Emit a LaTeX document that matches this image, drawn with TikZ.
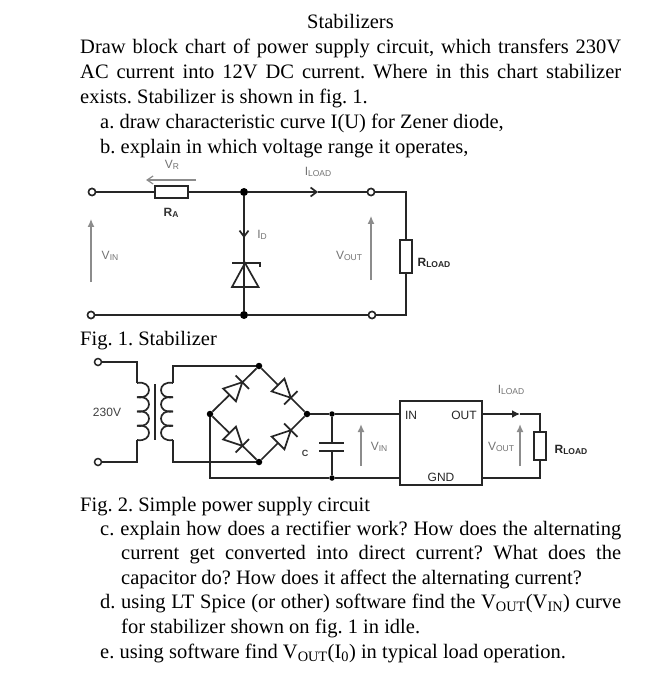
\documentclass[tikz,border=0pt]{standalone}
\usepackage{fontspec}
\setmainfont{Liberation Serif}
\setsansfont{Liberation Sans}
\usetikzlibrary{arrows.meta}

\newcommand{\lab}[2]{#1\raisebox{-.25ex}{\fontsize{8.5}{9}\selectfont #2}}

\tikzset{
  txt/.style = {anchor=base west, inner sep=0pt, font=\fontsize{20.5}{25}\selectfont},
  lbl/.style = {inner sep=0pt, font=\sffamily\fontsize{12}{13}\selectfont},
  wire/.style = {line width=1.7pt, draw=black!85},
  volt/.style = {line width=1.2pt, draw=black!45, -{Latex[length=8pt,width=7pt]}},
  term/.style = {circle, draw=black!85, fill=white, line width=1.5pt, minimum size=7pt, inner sep=0pt},
  dot/.style = {circle, fill=black, minimum size=8pt, inner sep=0pt},
  res/.style = {rectangle, draw=black!85, fill=white, line width=1.7pt, inner sep=0pt},
  openhead/.style = {-{Straight Barb[length=6pt,width=9pt]}},
  bdiode/.pic = {
    \draw [wire, fill=white] (-7,-9) -- (11,0) -- (-7,9) -- cycle;
    \draw [wire] (11,-9.5) -- (11,9.5);
  }
}

\begin{document}
\frenchspacing
\begin{tikzpicture}[x=1pt,y=-1pt]

\useasboundingbox [fill=white] (0,0) rectangle (666,700);

% text
\node [txt] (title) at (307,29) {Stabilizers};
\node [txt] (l1) at (80,54) {\makebox[541pt][s]{Draw block chart of power supply circuit, which transfers 230V}};
\node [txt] (l2) at (80,79) {\makebox[541pt][s]{AC current into 12V DC current. Where in this chart stabilizer}};
\node [txt] (l3) at (80,104) {exists. Stabilizer is shown in fig. 1.};
\node [txt] (l4) at (100,129) {a. draw characteristic curve I(U) for Zener diode,};
\node [txt] (l5) at (100,154) {b. explain in which voltage range it operates,};
\node [txt] (fig1) at (80,345) {Fig. 1. Stabilizer};
\node [txt] (fig2) at (80,511) {Fig. 2. Simple power supply circuit};
\node [txt] (l6) at (100,535) {\makebox[521pt][s]{c. explain how does a rectifier work? How does the alternating}};
\node [txt] (l7) at (121,559) {\makebox[500pt][s]{current get converted into direct current? What does the}};
\node [txt] (l8) at (121,584) {capacitor do? How does it affect the alternating current?};
\node [txt] (l9) at (100,608) {\makebox[521pt][s]{d. using LT Spice (or other) software find the V\textsubscript{OUT}(V\textsubscript{IN}) curve}};
\node [txt] (l10) at (121,633) {for stabilizer shown on fig. 1 in idle.};
\node [txt] (l11) at (100,658) {e. using software find V\textsubscript{OUT}(I\textsubscript{0}) in typical load operation.};

% fig. 1
\node [term] (a1) at (92,192) {};
\node [term] (a2) at (91,315) {};
\node [term] (a3) at (371,192) {};
\node [term] (a4) at (372,315) {};
\node [dot] (j1) at (244,192) {};
\node [dot] (j2) at (244,315) {};
\node [res, minimum width=33pt, minimum height=12pt] (ra) at (171.5,192) {};
\node [res, minimum width=12pt, minimum height=33pt] (rl) at (406,256.5) {};
\coordinate (c1) at (406,192);
\coordinate (c2) at (406,315);
\coordinate (il) at (318,192);
\coordinate (id) at (244,238);

\draw [wire] (a1) -- (ra);
\draw [wire] (ra) -- (j1);
\draw [wire, openhead] (j1) -- (il);
\draw [wire] (il) -- (a3);
\draw [wire] (a3) -- (c1) -- (rl);
\draw [wire] (rl) -- (c2) -- (a4);
\draw [wire] (a2) -- (j2);
\draw [wire] (j2) -- (a4);
\draw [wire] (j1) -- (j2);
\draw [wire, openhead] (j1) -- (id);
\node [res] at (ra) [minimum width=33pt, minimum height=12pt] {};
\node [res] at (rl) [minimum width=12pt, minimum height=33pt] {};
\node [term] at (a1) {};
\node [term] at (a2) {};
\node [term] at (a3) {};
\node [term] at (a4) {};

\draw [wire] (232,287) -- (258.5,287) -- (245,263) -- cycle;
\draw [wire] (232,263) -- (260,263) -- (260,267);

\coordinate (vr1) at (196,180);
\coordinate (vr2) at (146,180);
\coordinate (vi1) at (91,282);
\coordinate (vi2) at (91,219);
\coordinate (vo1) at (371,280);
\coordinate (vo2) at (371,216);
\draw [volt, -{Straight Barb[length=6pt,width=8pt]}] (vr1) -- (vr2);
\draw [volt] (vi1) -- (vi2);
\draw [volt] (vo1) -- (vo2);

\node [lbl, text=black!55] (lvr) at (172,165) {\lab{V}{R}};
\node [lbl, text=black!80] (lra) at (171,213) {\textbf{\lab{R}{A}}};
\node [lbl, text=black!55] (lil) at (318,172) {\lab{I}{LOAD}};
\node [lbl, text=black!55] (lid) at (262,235) {\lab{I}{D}};
\node [lbl, text=black!55] (lvi) at (110,256) {\lab{V}{IN}};
\node [lbl, text=black!55] (lvo) at (349,256) {\lab{V}{OUT}};
\node [lbl, text=black!85] (lrl) at (434,263) {\textbf{\lab{R}{LOAD}}};

% fig. 2
\node [term] (t1) at (98,362) {};
\node [term] (t2) at (98,462) {};
\coordinate (p1) at (137,362);
\coordinate (p2) at (137,383);
\coordinate (p3) at (137,440);
\coordinate (p4) at (137,462);
\coordinate (s1) at (173,366);
\coordinate (s2) at (173,383);
\coordinate (s3) at (173,440);
\coordinate (s4) at (173,462);

\draw [wire] (t1) -- (p1) -- (p2);
\draw [wire] (p3) -- (p4) -- (t2);
\foreach \y in {383,397.25,411.5,425.75} {
  \draw [wire] (137,\y) .. controls (153,\y-3) and (153,\y+17) .. (137,\y+14.25);
  \draw [wire] (173,\y) .. controls (157,\y-3) and (157,\y+17) .. (173,\y+14.25);
}
\draw [wire] (155,384) -- (155,440);

\node [dot, minimum size=6.5pt] (bt) at (259,366) {};
\node [dot, minimum size=6.5pt] (bl) at (210,414) {};
\node [dot, minimum size=6.5pt] (br) at (307,414) {};
\node [dot, minimum size=6.5pt] (bb) at (259,462) {};
\node [dot, minimum size=5.5pt] (ct) at (332,414) {};
\node [dot, minimum size=5.5pt] (cb) at (332,478) {};
\coordinate (cu) at (332,443);
\coordinate (cd) at (332,451);
\coordinate (cbl) at (210,478);

\draw [wire] (s2) -- (s1) -- (bt);
\draw [wire] (s3) -- (s4) -- (bb);
\draw [wire] (bl) -- (bt);
\draw [wire] (bt) -- (br);
\draw [wire] (bl) -- (bb);
\draw [wire] (bb) -- (br);
\draw [wire] (bl) -- (cbl) -- (cb);
\draw [wire] (br) -- (ct);
\draw [wire] (ct) -- (cu);
\draw [wire] (cd) -- (cb);
\draw [wire] (319,443) -- (344,443);
\draw [wire] (319,451) -- (344,451);

\pic [rotate=45] at (234.5,390) {bdiode};
\pic [rotate=-45] at (283,390) {bdiode};
\pic [rotate=-45] at (234.5,438) {bdiode};
\pic [rotate=45] at (283,438) {bdiode};

\node [res, minimum width=82pt, minimum height=84pt] (reg) at (441,443) {};
\node [res, minimum width=12pt, minimum height=28pt] (rl2) at (540,446) {};
\coordinate (bi) at (400,414);
\coordinate (bg) at (400,478);
\coordinate (bo) at (482,414);
\coordinate (bh) at (482,478);
\coordinate (i2) at (520,414);
\coordinate (c3) at (540,414);
\coordinate (c4) at (540,478);

\draw [wire] (ct) -- (bi);
\draw [wire] (cb) -- (bg);
\draw [wire, -{Latex[length=8pt,width=8pt]}] (bo) -- (i2);
\draw [wire] (i2) -- (c3) -- (rl2);
\draw [wire] (rl2) -- (c4) -- (bh);

\coordinate (vi3) at (361,466);
\coordinate (vi4) at (361,424);
\coordinate (vo3) at (520,466);
\coordinate (vo4) at (520,424);
\draw [volt, line width=1.6pt] (vi3) -- (vi4);
\draw [volt, line width=1.6pt] (vo3) -- (vo4);

\node [lbl, text=black!75] (l230) at (107,412) {230V};
\node [lbl, text=black!75, font=\sffamily\bfseries\fontsize{9}{10}\selectfont] (lc) at (305,453) {C};
\node [lbl, text=black!85] (lin) at (411,415) {IN};
\node [lbl, text=black!85] (lout) at (464,415) {OUT};
\node [lbl, text=black!85] (lgnd) at (441,477) {GND};
\node [lbl, text=black!55] (lvi2) at (379,447) {\lab{V}{IN}};
\node [lbl, text=black!55] (lvo2) at (501,447) {\lab{V}{OUT}};
\node [lbl, text=black!55] (lil2) at (511,390) {\lab{I}{LOAD}};
\node [lbl, text=black!85] (lrl2) at (571,450) {\textbf{\lab{R}{LOAD}}};

\end{tikzpicture}
\end{document}
